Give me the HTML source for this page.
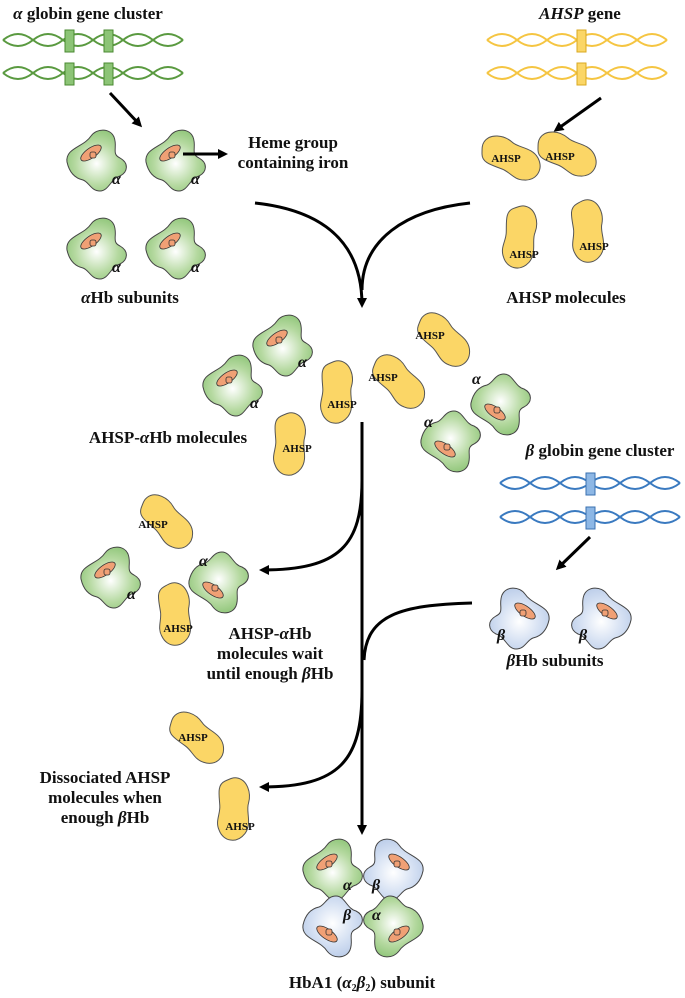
<!DOCTYPE html>
<html><head><meta charset="utf-8"><style>
html,body{margin:0;padding:0;background:#fff}
svg{display:block}
text{font-family:"Liberation Serif",serif;font-weight:bold;fill:#111}
.t{font-size:17px}
.s{font-size:11px}
.g{font-size:16px;font-style:italic}
</style></head><body>
<svg width="685" height="998" viewBox="0 0 685 998" xmlns="http://www.w3.org/2000/svg">
<defs>
<radialGradient id="gg" cx="0.5" cy="0.55" r="0.6"><stop offset="0" stop-color="#ffffff"/><stop offset="0.6" stop-color="#b5d9a0"/><stop offset="1" stop-color="#8cc476"/></radialGradient>
<radialGradient id="bg" cx="0.5" cy="0.55" r="0.6"><stop offset="0" stop-color="#ffffff"/><stop offset="0.6" stop-color="#d3dff2"/><stop offset="1" stop-color="#b9cbe8"/></radialGradient>
<marker id="ah" markerWidth="10" markerHeight="10" refX="7" refY="5" orient="auto" markerUnits="userSpaceOnUse"><path d="M0,0 L10,5 L0,10 z" fill="#000"/></marker>
<g id="heme"><ellipse cx="0" cy="0" rx="12" ry="5" transform="rotate(-35)" fill="#f0a075" stroke="#333" stroke-width="0.8"/><rect x="-1" y="-1" width="6" height="6" rx="2" fill="#f0a075" stroke="#333" stroke-width="0.8"/></g>
<path id="blob" d="M-29,2 C-31,-12 -12,-13 -5,-24 C1,-32 14,-32 18,-23 C22,-13 15,-6 24,-2 C33,3 32,12 24,16 C15,18 13,31 4,31 C-5,31 -7,22 -13,20 C-22,18 -27,11 -29,2Z" stroke="#444" stroke-width="1"/>
<g id="alpha"><use href="#blob" fill="url(#gg)"/><use href="#heme" x="-5" y="-7"/></g>
<g id="beta"><use href="#blob" fill="url(#bg)"/><use href="#heme" x="-5" y="-7"/></g>
<path id="ahsp" d="M-28,-16 C-22,-25 -8,-23 0,-16 C6,-10 20,-11 26,0 C32,12 24,23 12,22 C2,22 -2,14 -10,11 C-20,7 -30,5 -30,-4 C-30,-10 -30,-13 -28,-16Z" fill="#fbd666" stroke="#555" stroke-width="1"/>
<g id="dna"><path d="M0,0 C10,-8 20,-8 30,0 S50,8 60,0 S80,-8 90,0 S110,8 120,0 S140,-8 150,0 S170,8 180,0" fill="none" stroke-width="2"/><path d="M0,0 C10,8 20,8 30,0 S50,-8 60,0 S80,8 90,0 S110,-8 120,0 S140,8 150,0 S170,-8 180,0" fill="none" stroke-width="2"/></g>
</defs>

<!-- alpha gene -->
<text x="88" y="19" class="t" text-anchor="middle"><tspan font-style="italic">α</tspan> globin gene cluster</text>
<g stroke="#5a9a40"><use href="#dna" x="3" y="40"/><use href="#dna" x="3" y="73"/></g>
<g fill="#8cc476" stroke="#4a8a30" stroke-width="1"><rect x="65" y="30" width="9" height="22"/><rect x="104" y="30" width="9" height="22"/><rect x="65" y="63" width="9" height="22"/><rect x="104" y="63" width="9" height="22"/></g>
<line x1="110" y1="93" x2="140" y2="125" stroke="#000" stroke-width="3" marker-end="url(#ah)"/>

<!-- AHSP gene -->
<text x="580" y="19" class="t" text-anchor="middle"><tspan font-style="italic">AHSP</tspan> gene</text>
<g stroke="#f5c542"><use href="#dna" x="487" y="40"/><use href="#dna" x="487" y="73"/></g>
<g fill="#fbd666" stroke="#d9a820"><rect x="577" y="30" width="9" height="22"/><rect x="577" y="63" width="9" height="22"/></g>
<line x1="601" y1="98" x2="556" y2="130" stroke="#000" stroke-width="3" marker-end="url(#ah)"/>

<!-- alpha subunits -->
<use href="#alpha" x="96" y="160"/><use href="#alpha" x="175" y="160"/>
<use href="#alpha" x="96" y="248"/><use href="#alpha" x="175" y="248"/>
<text x="112" y="184" class="g">α</text><text x="191" y="184" class="g">α</text>
<text x="112" y="272" class="g">α</text><text x="191" y="272" class="g">α</text>
<line x1="183" y1="154" x2="225" y2="154" stroke="#000" stroke-width="3" marker-end="url(#ah)"/>
<text x="293" y="148" class="t" text-anchor="middle">Heme group</text>
<text x="293" y="168" class="t" text-anchor="middle">containing iron</text>
<text x="130" y="303" class="t" text-anchor="middle"><tspan font-style="italic">α</tspan>Hb subunits</text>

<!-- AHSP molecules -->
<use href="#ahsp" x="512" y="158"/><use href="#ahsp" x="568" y="154"/>
<use href="#ahsp" transform="translate(520,238) rotate(70)"/><use href="#ahsp" transform="translate(588,232) rotate(60)"/>
<text x="506" y="162" class="s" text-anchor="middle">AHSP</text><text x="560" y="160" class="s" text-anchor="middle">AHSP</text>
<text x="524" y="258" class="s" text-anchor="middle">AHSP</text><text x="594" y="250" class="s" text-anchor="middle">AHSP</text>
<text x="566" y="303" class="t" text-anchor="middle">AHSP molecules</text>

<!-- merge -->
<path d="M255,203 C320,210 362,240 362,305" fill="none" stroke="#000" stroke-width="3" marker-end="url(#ah)"/>
<path d="M470,203 C405,210 362,240 362,290" fill="none" stroke="#000" stroke-width="3"/>

<!-- complexes -->
<use href="#alpha" x="232" y="385"/><use href="#alpha" x="282" y="345"/>
<use href="#ahsp" transform="translate(337,393) rotate(65)"/><use href="#ahsp" transform="translate(290,445) rotate(65)"/>
<text x="250" y="408" class="g">α</text><text x="298" y="367" class="g">α</text>
<text x="342" y="408" class="s" text-anchor="middle">AHSP</text><text x="297" y="452" class="s" text-anchor="middle">AHSP</text>
<use href="#ahsp" transform="translate(400,382) rotate(20)"/><use href="#ahsp" transform="translate(445,340) rotate(20)"/>
<use href="#alpha" transform="translate(450,442) rotate(180) scale(-1,1)"/><use href="#alpha" transform="translate(500,405) rotate(180) scale(-1,1)"/>
<text x="383" y="381" class="s" text-anchor="middle">AHSP</text><text x="430" y="339" class="s" text-anchor="middle">AHSP</text>
<text x="424" y="427" class="g">α</text><text x="472" y="384" class="g">α</text>
<text x="168" y="443" class="t" text-anchor="middle">AHSP-<tspan font-style="italic">α</tspan>Hb molecules</text>

<!-- main line -->
<path d="M362,422 L362,832" stroke="#000" stroke-width="3" fill="none" marker-end="url(#ah)"/>
<path d="M362,480 C362,545 340,570 262,570" fill="none" stroke="#000" stroke-width="3" marker-end="url(#ah)"/>
<path d="M472,603 C400,605 366,615 364,660" fill="none" stroke="#000" stroke-width="3"/>
<path d="M362,690 C362,760 340,787 262,787" fill="none" stroke="#000" stroke-width="3" marker-end="url(#ah)"/>

<!-- beta gene -->
<text x="600" y="456" class="t" text-anchor="middle"><tspan font-style="italic">β</tspan> globin gene cluster</text>
<g stroke="#3a7ac0"><use href="#dna" x="500" y="483"/><use href="#dna" x="500" y="517"/></g>
<g fill="#8db7e5" stroke="#3a70b0"><rect x="586" y="473" width="9" height="22"/><rect x="586" y="507" width="9" height="22"/></g>
<line x1="590" y1="537" x2="558" y2="568" stroke="#000" stroke-width="3" marker-end="url(#ah)"/>
<use href="#beta" transform="translate(520,618) scale(-1,1)"/><use href="#beta" transform="translate(602,618) scale(-1,1)"/>
<text x="497" y="640" class="g">β</text><text x="579" y="640" class="g">β</text>
<text x="555" y="666" class="t" text-anchor="middle"><tspan font-style="italic">β</tspan>Hb subunits</text>

<!-- waiting complex -->
<use href="#ahsp" transform="translate(168,522) rotate(20)"/>
<use href="#alpha" x="110" y="577"/>
<use href="#alpha" transform="translate(218,583) rotate(180) scale(-1,1)"/>
<use href="#ahsp" transform="translate(175,615) rotate(60)"/>
<text x="153" y="528" class="s" text-anchor="middle">AHSP</text><text x="178" y="632" class="s" text-anchor="middle">AHSP</text>
<text x="127" y="599" class="g">α</text><text x="199" y="566" class="g">α</text>
<text x="270" y="639" class="t" text-anchor="middle">AHSP-<tspan font-style="italic">α</tspan>Hb</text>
<text x="270" y="659" class="t" text-anchor="middle">molecules wait</text>
<text x="270" y="679" class="t" text-anchor="middle">until enough <tspan font-style="italic">β</tspan>Hb</text>

<!-- dissociated -->
<use href="#ahsp" transform="translate(198,738) rotate(15)"/>
<use href="#ahsp" transform="translate(234,810) rotate(65)"/>
<text x="193" y="741" class="s" text-anchor="middle">AHSP</text><text x="240" y="830" class="s" text-anchor="middle">AHSP</text>
<text x="105" y="783" class="t" text-anchor="middle">Dissociated AHSP</text>
<text x="105" y="803" class="t" text-anchor="middle">molecules when</text>
<text x="105" y="823" class="t" text-anchor="middle">enough <tspan font-style="italic">β</tspan>Hb</text>

<!-- HbA1 -->
<use href="#alpha" x="332" y="869"/>
<use href="#beta" transform="translate(394,869) scale(-1,1)"/>
<use href="#beta" transform="translate(332,927) scale(1,-1)"/>
<use href="#alpha" transform="translate(394,927) rotate(180)"/>
<text x="343" y="890" class="g">α</text><text x="372" y="890" class="g">β</text>
<text x="343" y="920" class="g">β</text><text x="372" y="920" class="g">α</text>
<text x="362" y="988" class="t" text-anchor="middle">HbA1 (<tspan font-style="italic">α</tspan><tspan font-size="10" dy="3">2</tspan><tspan font-style="italic" dy="-3">β</tspan><tspan font-size="10" dy="3">2</tspan><tspan dy="-3">) subunit</tspan></text>
</svg>
</body></html>
